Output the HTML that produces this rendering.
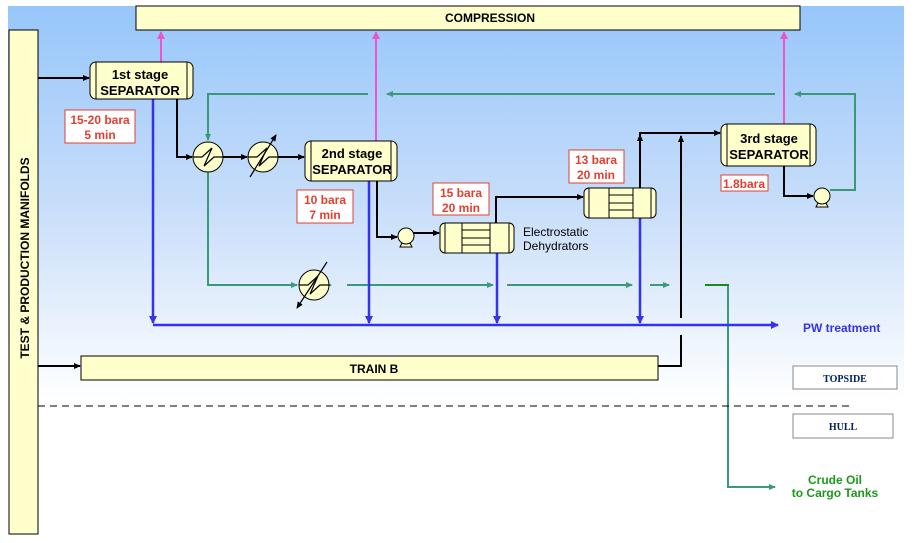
<!DOCTYPE html>
<html><head><meta charset="utf-8"><style>
body{margin:0;width:924px;height:543px;background:#fff;overflow:hidden}
svg{display:block}
text{font-family:"Liberation Sans",Arial,sans-serif;font-weight:bold}
</style></head><body>
<svg width="924" height="543" viewBox="0 0 924 543" xmlns="http://www.w3.org/2000/svg">
<defs>
<linearGradient id="bg" x1="0" y1="0" x2="0" y2="1">
<stop offset="0" stop-color="#97c6fa"/>
<stop offset="0.4" stop-color="#c8defa"/>
<stop offset="0.78" stop-color="#ffffff"/>
<stop offset="1" stop-color="#ffffff"/>
</linearGradient>
<marker id="ak" markerWidth="8" markerHeight="8" refX="6" refY="3" orient="auto" markerUnits="userSpaceOnUse"><path d="M0,0 L7,3 L0,6z" fill="#000"/></marker>
<marker id="ab" markerWidth="10" markerHeight="10" refX="7" refY="4" orient="auto" markerUnits="userSpaceOnUse"><path d="M0,0 L8,4 L0,8z" fill="#3333ee"/></marker>
<marker id="ag" markerWidth="8" markerHeight="8" refX="6" refY="3" orient="auto" markerUnits="userSpaceOnUse"><path d="M0,0 L7,3 L0,6z" fill="#3a9a78"/></marker>
<marker id="ap" markerWidth="10" markerHeight="10" refX="7" refY="4" orient="auto" markerUnits="userSpaceOnUse"><path d="M0,0 L8,4 L0,8z" fill="#ee55cc"/></marker>
</defs>
<rect x="8" y="6" width="896" height="505" fill="url(#bg)"/>

<rect x="136" y="6" width="664" height="24" fill="#ffffcc" stroke="#000"/>
<text x="490" y="22" font-size="12" text-anchor="middle">COMPRESSION</text>
<rect x="9" y="30" width="29" height="504" fill="#ffffcc" stroke="#000"/>
<text transform="translate(29,258) rotate(-90)" font-size="12" text-anchor="middle">TEST &amp; PRODUCTION MANIFOLDS</text>

<g stroke="#ee55cc" stroke-width="2" fill="none">
<line x1="161" y1="62" x2="161" y2="32" marker-end="url(#ap)"/>
<line x1="376" y1="141" x2="376" y2="32" marker-end="url(#ap)"/>
<line x1="784" y1="124" x2="784" y2="32" marker-end="url(#ap)"/>
</g>

<g stroke="#3a9a78" stroke-width="2" fill="none">
<polyline points="368,94 208,94 208,140" marker-end="url(#ag)"/>
<line x1="775" y1="94" x2="387" y2="94" marker-end="url(#ag)"/>
<polyline points="830,190 855,190 855,94 795,94" marker-end="url(#ag)"/>
<polyline points="208,172 208,285 297,285" marker-end="url(#ag)"/>
<line x1="329" y1="285" x2="331" y2="285" marker-end="url(#ag)"/>
<line x1="347" y1="285" x2="493" y2="285" marker-end="url(#ag)"/>
<line x1="507" y1="285" x2="632" y2="285" marker-end="url(#ag)"/>
<line x1="650" y1="285" x2="669" y2="285" marker-end="url(#ag)"/>
<polyline points="728,285 728,487 775,487" marker-end="url(#ag)"/>
</g>
<line x1="705" y1="285" x2="729" y2="285" stroke="#1a8a1a" stroke-width="2"/>

<g stroke="#3333ee" stroke-width="2.5" fill="none">
<line x1="153" y1="99" x2="153" y2="323" marker-end="url(#ab)"/>
<line x1="369" y1="181" x2="369" y2="323" marker-end="url(#ab)"/>
<line x1="497" y1="253" x2="497" y2="323" marker-end="url(#ab)"/>
<line x1="640" y1="218" x2="640" y2="323" marker-end="url(#ab)"/>
<line x1="153" y1="325" x2="778" y2="325" marker-end="url(#ab)"/>
</g>
<text x="803" y="332" font-size="12" fill="#3333ee">PW treatment</text>

<g stroke="#000" stroke-width="2" fill="none">
<line x1="38" y1="78" x2="89" y2="78" marker-end="url(#ak)"/>
<polyline points="177,99 177,157 192,157" marker-end="url(#ak)"/>
<line x1="223" y1="157" x2="247" y2="157" marker-end="url(#ak)"/>
<line x1="278" y1="157" x2="304" y2="157" marker-end="url(#ak)"/>
<polyline points="377,181 377,237 397,237" marker-end="url(#ak)"/>
<line x1="413" y1="233" x2="439" y2="233" marker-end="url(#ak)"/>
<polyline points="496,223 496,197 583,197" marker-end="url(#ak)"/>
<polyline points="640,188 640,133 720,133"/>
<line x1="640" y1="150" x2="640" y2="135" marker-end="url(#ak)"/>
<line x1="700" y1="133" x2="720" y2="133" marker-end="url(#ak)"/>
<line x1="681" y1="318" x2="681" y2="136" marker-end="url(#ak)"/>
<polyline points="681,335 681,366 658,366"/>
<polyline points="784,166 784,196 813,196" marker-end="url(#ak)"/>
<line x1="38" y1="366" x2="80" y2="366" marker-end="url(#ak)"/>
</g>

<g fill="#ffffcc" stroke="#000">
<rect x="90" y="62" width="103" height="37" rx="6"/>
<line x1="96" y1="62" x2="96" y2="99"/><line x1="187" y1="62" x2="187" y2="99"/>
<rect x="305" y="141" width="92" height="40" rx="6"/>
<line x1="311" y1="141" x2="311" y2="181"/><line x1="391" y1="141" x2="391" y2="181"/>
<rect x="721" y="124" width="95" height="42" rx="6"/>
<line x1="727" y1="124" x2="727" y2="166"/><line x1="810" y1="124" x2="810" y2="166"/>
</g>
<text x="140" y="79" font-size="13" text-anchor="middle">1st stage</text>
<text x="140" y="95" font-size="13" text-anchor="middle">SEPARATOR</text>
<text x="352" y="158" font-size="13" text-anchor="middle">2nd stage</text>
<text x="352" y="174" font-size="13" text-anchor="middle">SEPARATOR</text>
<text x="769" y="143" font-size="13" text-anchor="middle">3rd stage</text>
<text x="769" y="159" font-size="13" text-anchor="middle">SEPARATOR</text>

<g fill="#ffffcc" stroke="#000">
<rect x="440" y="223" width="74" height="30" rx="5"/>
<line x1="445" y1="223" x2="445" y2="253"/><line x1="509" y1="223" x2="509" y2="253"/>
<rect x="462" y="223" width="28" height="30"/>
<line x1="462" y1="230" x2="490" y2="230"/><line x1="462" y1="238" x2="490" y2="238"/><line x1="462" y1="245" x2="490" y2="245"/>
<rect x="584" y="188" width="72" height="30" rx="5"/>
<line x1="589" y1="188" x2="589" y2="218"/><line x1="651" y1="188" x2="651" y2="218"/>
<rect x="609" y="188" width="24" height="30"/>
<line x1="609" y1="195" x2="633" y2="195"/><line x1="609" y1="203" x2="633" y2="203"/><line x1="609" y1="210" x2="633" y2="210"/>
</g>
<text x="523" y="236" font-size="12" style="font-weight:normal">Electrostatic</text>
<text x="523" y="250" font-size="12" style="font-weight:normal">Dehydrators</text>

<g stroke="#000" fill="#ffffcc">
<circle cx="208" cy="157" r="15"/>
<circle cx="263" cy="157" r="15"/>
<circle cx="314" cy="285" r="15"/>
</g>
<g stroke="#000" fill="none" stroke-width="1.2">
<polyline points="193,157 202,157 212,148 204,166 214,157 223,157"/>
<polyline points="248,157 257,157 267,148 259,166 269,157 278,157"/>
<polyline points="299,285 308,285 318,276 310,294 320,285 329,285"/>
<line x1="250" y1="177" x2="276" y2="135" marker-end="url(#ak)"/>
<line x1="327" y1="262" x2="297" y2="308" marker-end="url(#ak)"/>
</g>

<g stroke="#000" fill="#ffffcc">
<path d="M400,247 L403,241 L409,241 L412,247z"/><circle cx="406" cy="236" r="8"/>
<path d="M816,207 L819,201 L825,201 L828,207z"/><circle cx="822" cy="196" r="8"/>
</g>

<g fill="#fff" stroke="#e04030">
<rect x="65" y="110" width="70" height="33"/>
<rect x="297" y="190" width="56" height="33"/>
<rect x="433" y="183" width="56" height="32"/>
<rect x="569" y="150" width="55" height="33"/>
<rect x="721" y="175" width="47" height="16"/>
</g>
<g fill="#e04030" font-size="12" text-anchor="middle">
<text x="100" y="124">15-20 bara</text><text x="100" y="139">5 min</text>
<text x="325" y="204">10 bara</text><text x="325" y="219">7 min</text>
<text x="461" y="197">15 bara</text><text x="461" y="212">20 min</text>
<text x="596" y="164">13 bara</text><text x="596" y="179">20 min</text>
<text x="744" y="188">1.8bara</text>
</g>

<rect x="81" y="356" width="577" height="24" fill="#ffffcc" stroke="#000"/>
<text x="374" y="373" font-size="12" text-anchor="middle">TRAIN B</text>

<line x1="38" y1="406" x2="850" y2="406" stroke="#000" stroke-dasharray="7,5"/>

<rect x="793" y="366" width="104" height="23" fill="#fff" stroke="#888"/>
<text x="845" y="382" font-size="10" fill="#002060" text-anchor="middle" style="font-family:'Liberation Serif',serif">TOPSIDE</text>
<rect x="793" y="414" width="100" height="24" fill="#fff" stroke="#888"/>
<text x="843" y="430" font-size="10" fill="#002060" text-anchor="middle" style="font-family:'Liberation Serif',serif">HULL</text>

<text x="835" y="484" font-size="12" fill="#1a9a1a" text-anchor="middle">Crude Oil</text>
<text x="835" y="497" font-size="12" fill="#1a9a1a" text-anchor="middle">to Cargo Tanks</text>
</svg>
</body></html>
